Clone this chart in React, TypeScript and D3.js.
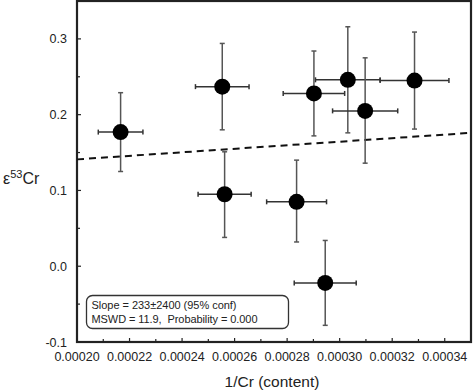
import React, { useEffect, useRef } from 'react';
import * as d3 from 'd3';

// 1/Cr content, eps53Cr, and 2-sigma errors
const invCr = [0.0002166, 0.0002553, 0.0002562, 0.0002836, 0.0002945, 0.0002902, 0.0003031, 0.0003097, 0.0003285];
const invCrErr = [0.0000085, 0.0000102, 0.0000101, 0.0000114, 0.0000118, 0.0000117, 0.0000123, 0.0000124, 0.0000131];
const eps53 = [0.177, 0.237, 0.095, 0.085, -0.022, 0.228, 0.246, 0.205, 0.245];
const epsTop = [0.229, 0.294, 0.151, 0.14, 0.034, 0.284, 0.316, 0.275, 0.309];
const epsBottom = [0.125, 0.18, 0.038, 0.032, -0.078, 0.172, 0.176, 0.136, 0.181];

// regression line end points
const fitX = [0.0002, 0.00035];
const fitY = [0.141, 0.176];

const xTicks = [0.0002, 0.00022, 0.00024, 0.00026, 0.00028, 0.0003, 0.00032, 0.00034];
const yTicks = [-0.1, 0.0, 0.1, 0.2, 0.3];

const statLines = ['Slope = 233\u00b12400 (95% conf)', 'MSWD = 11.9,  Probability = 0.000'];
const statWidths = [145, 166];

const W = 474;
const H = 392;
const FONT = 'Arial, "Liberation Sans", sans-serif';

const App: React.FC = () => {
    const svgRef = useRef<SVGSVGElement>(null);

    useEffect(() => {
        if (!svgRef.current) return;
        const svg = d3.select(svgRef.current);
        svg.selectAll('*').remove();

        const left = 77, right = 471, top = 1, bottom = 342;

        const x = d3.scaleLinear().domain([0.0002, 0.00035]).range([left, right]);
        const y = d3.scaleLinear().domain([-0.1, 0.35]).range([bottom, top]);

        // frame
        svg.append('rect')
            .attr('x', left).attr('y', top)
            .attr('width', right - left).attr('height', bottom - top)
            .attr('fill', 'none').attr('stroke', '#222').attr('stroke-width', 2.2);

        // minor + major ticks, pointing inward
        const xMinor = d3.range(0.00021, 0.00035, 0.00002);
        xMinor.forEach(v => {
            svg.append('line').attr('x1', x(v)).attr('x2', x(v))
                .attr('y1', bottom).attr('y2', bottom - 3)
                .attr('stroke', '#222').attr('stroke-width', 1.2);
        });
        xTicks.forEach(v => {
            svg.append('line').attr('x1', x(v)).attr('x2', x(v))
                .attr('y1', bottom).attr('y2', bottom - 4)
                .attr('stroke', '#222').attr('stroke-width', 1.2);
            svg.append('text').attr('x', x(v)).attr('y', bottom + 19)
                .attr('text-anchor', 'middle')
                .style('font-family', FONT).style('font-size', '12.5px').attr('fill', '#222')
                .text(v.toFixed(5));
        });
        const yMinor = [-0.05, 0.05, 0.15, 0.25];
        yMinor.forEach(v => {
            svg.append('line').attr('x1', left).attr('x2', left + 3)
                .attr('y1', y(v)).attr('y2', y(v))
                .attr('stroke', '#222').attr('stroke-width', 1.2);
        });
        yTicks.forEach(v => {
            svg.append('line').attr('x1', left).attr('x2', left + 4)
                .attr('y1', y(v)).attr('y2', y(v))
                .attr('stroke', '#222').attr('stroke-width', 1.2);
            svg.append('text').attr('x', left - 10).attr('y', y(v) + 4.5)
                .attr('text-anchor', 'end')
                .style('font-family', FONT).style('font-size', '12.5px').attr('fill', '#222')
                .text(v.toFixed(1));
        });

        // regression line
        svg.append('line')
            .attr('x1', x(fitX[0])).attr('y1', y(fitY[0]))
            .attr('x2', x(fitX[1])).attr('y2', y(fitY[1]))
            .attr('stroke', '#111').attr('stroke-width', 2)
            .attr('stroke-dasharray', '7,5');

        // error bars
        const cap = 2.5;
        const g = svg.append('g');
        invCr.forEach((v, i) => {
            const cx = x(v), cy = y(eps53[i]);
            const x0 = x(v - invCrErr[i]), x1 = x(v + invCrErr[i]);
            const y0 = y(epsTop[i]), y1 = y(epsBottom[i]);
            g.append('line').attr('x1', cx).attr('x2', cx).attr('y1', y0).attr('y2', y1)
                .attr('stroke', '#555').attr('stroke-width', 1.5);
            g.append('line').attr('x1', x0).attr('x2', x1).attr('y1', cy).attr('y2', cy)
                .attr('stroke', '#333').attr('stroke-width', 1.5);
            [y0, y1].forEach(yy => g.append('line')
                .attr('x1', cx - cap).attr('x2', cx + cap).attr('y1', yy).attr('y2', yy)
                .attr('stroke', '#555').attr('stroke-width', 1.5));
            [x0, x1].forEach(xx => g.append('line')
                .attr('x1', xx).attr('x2', xx).attr('y1', cy - cap).attr('y2', cy + cap)
                .attr('stroke', '#333').attr('stroke-width', 1.5));
        });

        // markers
        svg.append('g').selectAll('circle')
            .data(invCr)
            .join('circle')
            .attr('cx', d => x(d))
            .attr('cy', (d, i) => y(eps53[i]))
            .attr('r', 8)
            .attr('fill', '#000');

        // stats box
        svg.append('rect')
            .attr('x', 86.5).attr('y', 295.5).attr('width', 202).attr('height', 33)
            .attr('rx', 6).attr('ry', 6)
            .attr('fill', '#fff').attr('stroke', '#333').attr('stroke-width', 1.3);
        statLines.forEach((t, i) => {
            svg.append('text').attr('x', 91.5).attr('y', 309 + i * 13.5)
                .attr('textLength', statWidths[i]).attr('lengthAdjust', 'spacing')
                .style('white-space', 'pre')
                .style('font-family', FONT).style('font-size', '11px').attr('fill', '#222')
                .text(t);
        });

        // axis titles
        const yl = svg.append('text').attr('x', 3).attr('y', 184)
            .style('font-family', FONT).style('font-size', '16px').attr('fill', '#222');
        yl.append('tspan').text('\u03b5');
        yl.append('tspan').attr('dy', -6).style('font-size', '11px').text('53');
        yl.append('tspan').attr('dy', 6).text('Cr');

        svg.append('text').attr('x', 272).attr('y', 387)
            .attr('text-anchor', 'middle')
            .style('font-family', FONT).style('font-size', '15.5px').attr('fill', '#222')
            .text('1/Cr (content)');
    }, []);

    return (
        <svg ref={svgRef} width={W} height={H}
            style={{ position: 'absolute', left: 0, top: 0, background: '#fff' }} />
    );
};

export default App;
